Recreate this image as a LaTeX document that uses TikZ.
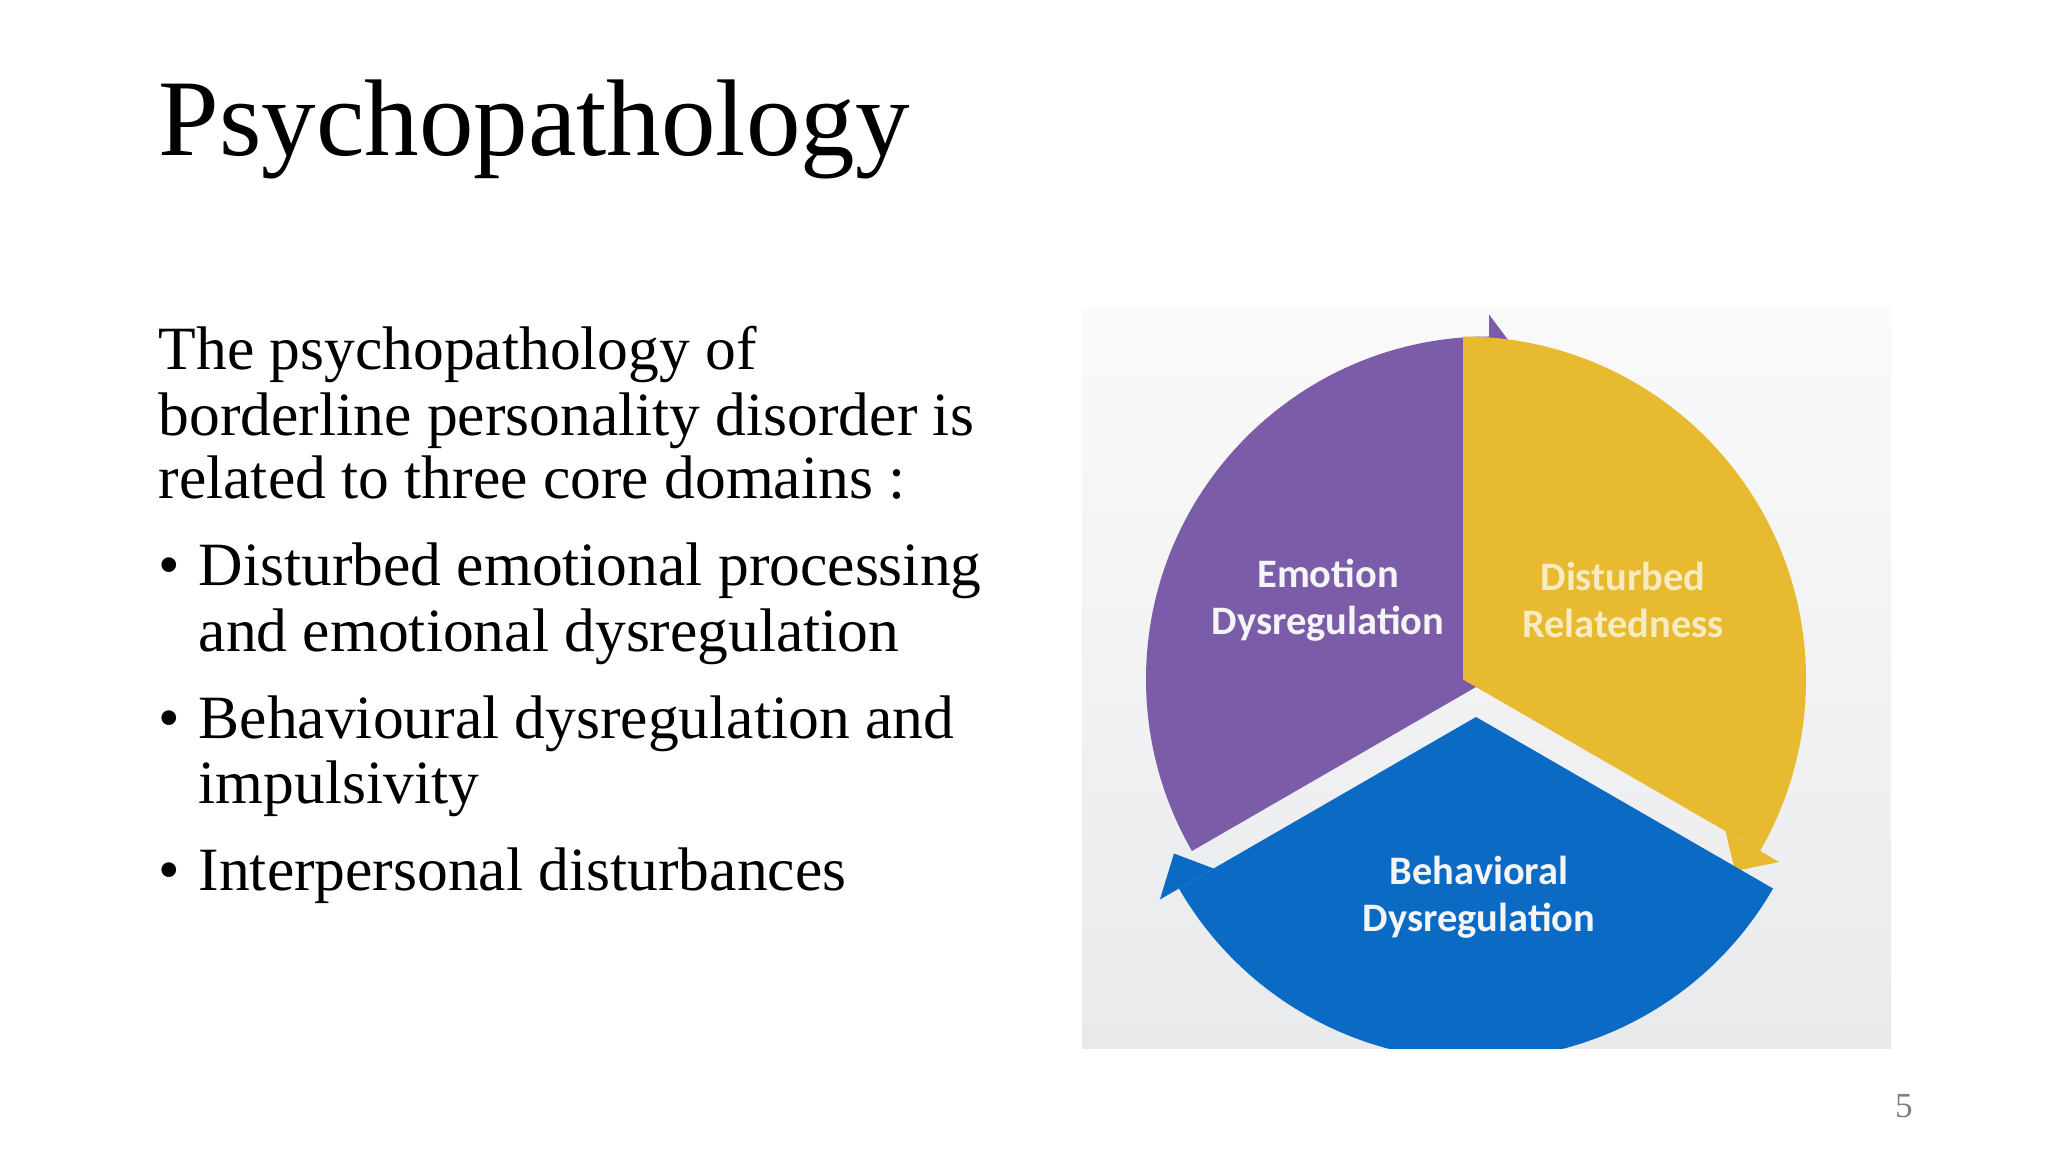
\documentclass[tikz,border=0pt]{standalone}
\usetikzlibrary{calc}
\usepackage{fontspec}
\setmainfont{Liberation Serif}
\newfontfamily\lblfont{Carlito}
\definecolor{cpur}{HTML}{7B5CA8}
\definecolor{cyel}{HTML}{E8BA30}
\definecolor{cblu}{HTML}{0A6AC4}
\definecolor{bgg}{HTML}{E9EAEC}
\begin{document}
\begin{tikzpicture}[x=0.01cm,y=-0.01cm,
  body/.style={anchor=base west,inner sep=0,font=\fontsize{17.5}{20}\selectfont},
  lbl/.style={align=center,font=\lblfont\bfseries\fontsize{11.5}{13.5}\selectfont,text=white!92!gray}]
\useasboundingbox (0,0) rectangle (2048,1152);
\fill[white] (0,0) rectangle (2048,1152);
\node[anchor=base west,inner sep=0,font=\fontsize{31}{36}\selectfont] (title) at (158,156) {Psychopathology};
\node[body] (l1) at (158,370) {The psychopathology of};
\node[body] (l2) at (158,436) {borderline personality disorder is};
\node[body] (l3) at (158,499) {related to three core domains :};
\node[body] (b1) at (158,586) {\textbullet};
\node[body] (l4) at (198,586) {Disturbed emotional processing};
\node[body] (l5) at (198,651) {and emotional dysregulation};
\node[body] (b2) at (158,738) {\textbullet};
\node[body] (l6) at (198,738) {Behavioural dysregulation and};
\node[body] (l7) at (198,803) {impulsivity};
\node[body] (b3) at (158,890) {\textbullet};
\node[body] (l8) at (198,890) {Interpersonal disturbances};
\node[anchor=base,inner sep=0,text=gray,font=\fontsize{10}{12}\selectfont] (pg) at (1904,1117) {5};
% image
\begin{scope}
\clip (1082,309) rectangle (1891,1048);
\shade[top color=white!96!gray,bottom color=bgg] (1082,309) rectangle (1891,1048);
\def\R{343}
% purple
\begin{scope}[shift={(1476,687)},shift={(150:-15)}]
 \fill[cpur] (0,0) -- (90:-\R) arc[start angle=-90,end angle=-210,radius=\R] -- cycle;
 \fill[cpur] (0,-\R-22) -- (0,-\R+40) -- (30,-\R+18) -- cycle;
\end{scope}
% yellow
\begin{scope}[shift={(1476,687)},shift={(30:-15)}]
 \fill[cyel] (0,0) -- (0,-\R) arc[start angle=-90,end angle=30,radius=\R] -- cycle;
 \fill[cyel] (30:\R+22) -- (30:\R-40) -- ($(30:\R)+(-25,20)$) -- cycle;
\end{scope}
% blue
\begin{scope}[shift={(1476,687)},shift={(0,30)}]
 \fill[cblu] (0,0) -- (30:\R) arc[start angle=30,end angle=150,radius=\R] -- cycle;
 \fill[cblu] (150:\R+22) -- (150:\R-40) -- ($(150:\R)+(-5,-35)$) -- cycle;
\end{scope}
\end{scope}
\node[lbl] (emo) at (1328,600) {Emotion\\Dysregulation};
\node[lbl,text=cyel!30!white] (rel) at (1623,600) {Disturbed\\Relatedness};
\node[lbl] (beh) at (1479,897) {Behavioral\\Dysregulation};
\end{tikzpicture}
\end{document}
